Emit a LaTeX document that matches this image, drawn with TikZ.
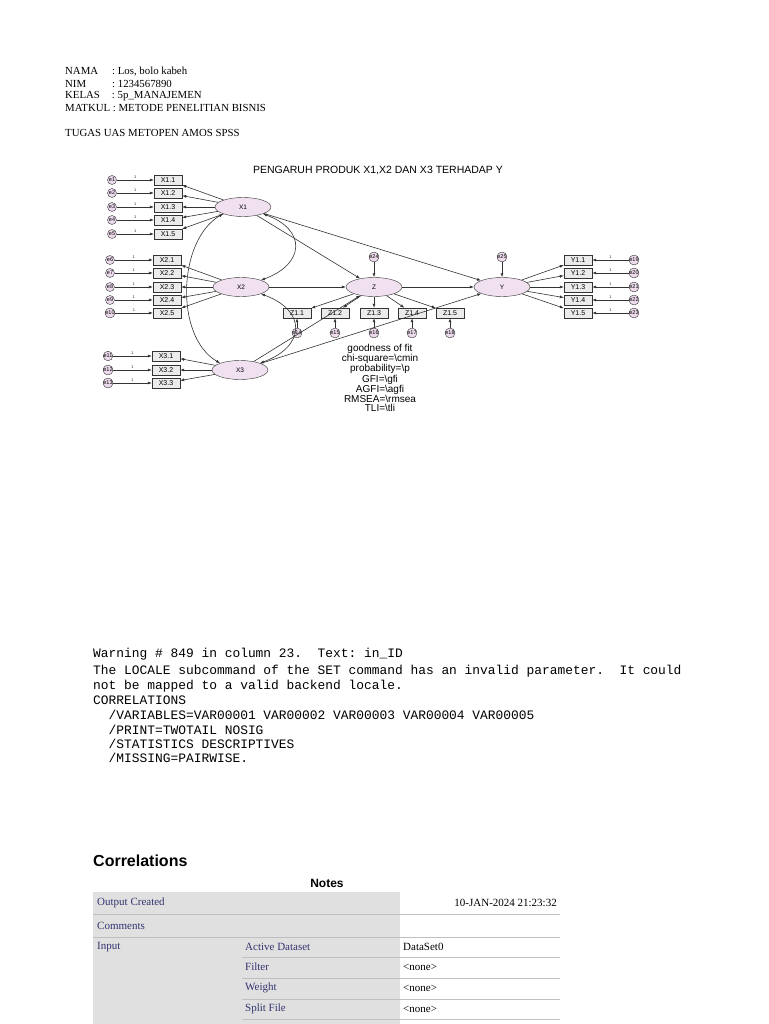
\documentclass[tikz,border=0pt]{standalone}
\usepackage{fontspec}
\setmainfont{Liberation Serif}
\setsansfont{Liberation Sans}
\setmonofont{Liberation Mono}
\usetikzlibrary{arrows.meta,shapes.geometric}
\begin{document}
\begin{tikzpicture}[x=1pt,y=-1pt,
  obs/.style={draw=black!80,fill=violet!10!black!8,minimum width=28pt,minimum height=10pt,inner sep=0pt,font=\sffamily\fontsize{7}{7}\selectfont},
  lat/.style={draw=black!80,fill=violet!12,ellipse,minimum width=56pt,minimum height=19pt,inner sep=0pt,font=\sffamily\fontsize{6.5}{6.5}\selectfont},
  err/.style={draw=black!80,fill=violet!14,circle,minimum size=9pt,inner sep=0pt,font=\sffamily\fontsize{5.5}{5.5}\selectfont},
  arr/.style={-{Latex[length=4pt,width=3pt]},black!80,line width=0.6pt},
  cov/.style={{Latex[length=4pt,width=3pt]}-{Latex[length=4pt,width=3pt]},black!80,line width=0.6pt},
  one/.style={font=\sffamily\fontsize{4}{4}\selectfont,inner sep=0pt},
  hd/.style={anchor=west,inner sep=0pt,font=\fontsize{10.8}{10.8}\selectfont},
  mono/.style={anchor=west,inner sep=0pt,font=\ttfamily\fontsize{12.9}{12.9}\selectfont},
  tb/.style={anchor=west,inner sep=0pt,font=\fontsize{11}{11}\selectfont,text=blue!30!black!80},
  tv/.style={anchor=west,inner sep=0pt,font=\fontsize{11}{11}\selectfont}]
\useasboundingbox[fill=white] (0,0) rectangle (768,1024);
% header
\node[hd] (h1) at (65,72) {NAMA\hspace{14pt}: Los, bolo kabeh};
\node[hd] (h2) at (65,84) {NIM\hspace{26pt}: 1234567890};
\node[hd] (h3) at (65,96) {KELAS\hspace{12pt}: 5p\_MANAJEMEN};
\node[hd] (h4) at (65,108) {MATKUL : METODE PENELITIAN BISNIS};
\node[hd] (h5) at (65,133) {TUGAS UAS METOPEN AMOS SPSS};
\node[font=\sffamily\fontsize{10.5}{10.5}\selectfont] (title) at (378,171) {PENGARUH PRODUK X1,X2 DAN X3 TERHADAP Y};
% latents
\node[lat] (X1) at (243,207) {X1};
\node[lat] (X2) at (241,287) {X2};
\node[lat] (X3) at (240,370) {X3};
\node[lat] (Z) at (374,287) {Z};
\node[lat] (Y) at (502,287) {Y};
\node[err] (e24) at (374,257) {e24};
\node[err] (e25) at (502,257) {e25};
\draw[arr] (e24) -- (Z);
\draw[arr] (e25) -- (Y);
% X1 indicators
\foreach \i/\y in {1/180,2/193,3/207,4/220,5/234}{
  \node[obs] (x1\i) at (168,\y) {X1.\i};
  \node[err] (e\i) at (112,\y) {e\i};
  \draw[arr] (e\i) -- node[one,above=1pt]{1} (x1\i);
  \draw[arr] (X1) -- (x1\i);
}
\foreach \i/\y/\e in {1/260/6,2/273/7,3/287/8,4/300/9,5/313/10}{
  \node[obs] (x2\i) at (167,\y) {X2.\i};
  \node[err] (e\e) at (110,\y) {e\e};
  \draw[arr] (e\e) -- node[one,above=1pt]{1} (x2\i);
  \draw[arr] (X2) -- (x2\i);
}
\foreach \i/\y/\e in {1/356/11,2/370/12,3/383/13}{
  \node[obs] (x3\i) at (166,\y) {X3.\i};
  \node[err] (e\e) at (108,\y) {e\e};
  \draw[arr] (e\e) -- node[one,above=1pt]{1} (x3\i);
  \draw[arr] (X3) -- (x3\i);
}
\foreach \i/\y/\e in {1/260/19,2/273/20,3/287/21,4/300/22,5/313/23}{
  \node[obs] (y\i) at (578,\y) {Y1.\i};
  \node[err] (e\e) at (634,\y) {e\e};
  \draw[arr] (e\e) -- node[one,above=1pt]{1} (y\i);
  \draw[arr] (Y) -- (y\i);
}
\foreach \i/\x/\e in {1/297/14,2/335/15,3/374/16,4/412/17,5/450/18}{
  \node[obs] (z\i) at (\x,313) {Z1.\i};
  \node[err] (e\e) at (\x,333) {e\e};
  \draw[arr] (e\e) -- (z\i);
  \draw[arr] (Z) -- (z\i);
}
% structural
\draw[arr] (X1) -- (Z);
\draw[arr] (X1) -- (Y);
\draw[arr] (X2) -- (Z);
\draw[arr] (X3) -- (Z);
\draw[arr] (X3) -- (Y);
\draw[arr] (Z) -- (Y);
% covariances
\draw[cov] (X1.south east) to[out=-20,in=20,looseness=1.8] (X2.north east);
\draw[cov] (X2.south east) to[out=-20,in=20,looseness=1.8] (X3.north east);
\draw[cov] (X1.south west) to[out=210,in=150,looseness=0.9] (X3.north west);
% gof
\node[align=center,font=\sffamily\fontsize{10}{9}\selectfont] (gof) at (380,378) {goodness of fit\\chi-square=\textbackslash cmin\\probability=\textbackslash p\\GFI=\textbackslash gfi\\AGFI=\textbackslash agfi\\RMSEA=\textbackslash rmsea\\TLI=\textbackslash tli};
% syntax
\node[mono] (m1) at (93,654) {Warning \# 849 in column 23.\ \ Text: in\_ID};
\node[mono] (m2) at (93,671) {The LOCALE subcommand of the SET command has an invalid parameter.\ \ It could};
\node[mono] (m3) at (93,686) {not be mapped to a valid backend locale.};
\node[mono] (m4) at (93,700) {CORRELATIONS};
\node[mono] (m5) at (93,715) {\ \ /VARIABLES=VAR00001 VAR00002 VAR00003 VAR00004 VAR00005};
\node[mono] (m6) at (93,730) {\ \ /PRINT=TWOTAIL NOSIG};
\node[mono] (m7) at (93,744) {\ \ /STATISTICS DESCRIPTIVES};
\node[mono] (m8) at (93,758) {\ \ /MISSING=PAIRWISE.};
% table
\node[anchor=west,inner sep=0pt,font=\sffamily\bfseries\fontsize{16}{16}\selectfont] (corr) at (93,861) {Correlations};
\node[inner sep=0pt,font=\sffamily\bfseries\fontsize{12}{12}\selectfont] (notes) at (327,883) {Notes};
\fill[black!12] (93,892) rectangle (400,1024);
\draw[black!25,line width=0.8pt] (93,914) -- (560,914) (93,937) -- (560,937);
\foreach \y in {957,978,999,1019} \draw[black!25,line width=0.8pt] (242,\y) -- (560,\y);
\node[tb] (t1) at (97,903) {Output Created};
\node[anchor=east,inner sep=0pt,font=\fontsize{11}{11}\selectfont] (t1v) at (557,903) {10-JAN-2024 21:23:32};
\node[tb] (t2) at (97,926) {Comments};
\node[tb] (t3) at (97,947) {Input};
\node[tb] (t4) at (245,947) {Active Dataset};
\node[tv] (t4v) at (403,947) {DataSet0};
\node[tb] (t5) at (245,967) {Filter};
\node[tv] (t5v) at (403,967) {<none>};
\node[tb] (t6) at (245,988) {Weight};
\node[tv] (t6v) at (403,988) {<none>};
\node[tb] (t7) at (245,1009) {Split File};
\node[tv] (t7v) at (403,1009) {<none>};
\end{tikzpicture}
\end{document}
